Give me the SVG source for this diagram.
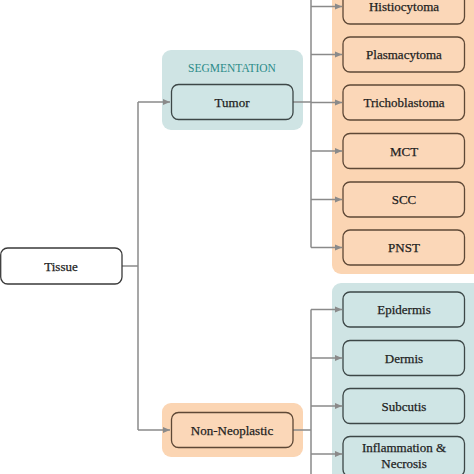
<svg xmlns="http://www.w3.org/2000/svg" width="474" height="474" viewBox="0 0 474 474">
<defs>
<style>
.bgT{fill:#cfe4e4}
.bgO{fill:#fbd5b3}
.bT{fill:#cfe5e5;stroke:#3d4747;stroke-width:1.3}
.bO{fill:#fbd7b8;stroke:#5e4836;stroke-width:1.3}
.bW{fill:#ffffff;stroke:#3a3a3a;stroke-width:1.3}
.t{font-family:"Liberation Serif","Times New Roman",serif;font-size:13px;fill:#1e1e1e;stroke:#1e1e1e;stroke-width:0.25;text-anchor:middle;dominant-baseline:central}
.seg{font-family:"Liberation Serif","Times New Roman",serif;font-size:11.5px;fill:#2b8b89;text-anchor:middle;dominant-baseline:central}
.c{fill:none;stroke:#8a8a8a;stroke-width:1.5}
</style>
<marker id="ah" markerWidth="8" markerHeight="8" refX="7" refY="4" orient="auto" markerUnits="userSpaceOnUse">
<path d="M0,1 L7,4 L0,7 Z" fill="#8a8a8a"/>
</marker>
</defs>
<rect class="bgT" x="162" y="50" width="141" height="80" rx="9"/>
<rect class="bgO" x="162" y="403" width="141" height="54" rx="9"/>
<rect class="bgO" x="332" y="-20" width="150" height="294" rx="9"/>
<rect class="bgT" x="332" y="283" width="150" height="210" rx="9"/>
<g id="connectors">
<path class="c" d="M122,266 H138"/>
<path class="c" d="M138,102 V430"/>
<path class="c" d="M138,102 H170" marker-end="url(#ah)"/>
<path class="c" d="M138,430 H170" marker-end="url(#ah)"/>
<path class="c" d="M293,102 H311"/>
<path class="c" d="M311,-5 V247.5"/>
<path class="c" d="M311,6.5 H342" marker-end="url(#ah)"/>
<path class="c" d="M311,54.5 H342" marker-end="url(#ah)"/>
<path class="c" d="M311,102.5 H342" marker-end="url(#ah)"/>
<path class="c" d="M311,151 H342" marker-end="url(#ah)"/>
<path class="c" d="M311,199.5 H342" marker-end="url(#ah)"/>
<path class="c" d="M311,247.5 H342" marker-end="url(#ah)"/>
<path class="c" d="M293,430 H311"/>
<path class="c" d="M311,309.5 V480"/>
<path class="c" d="M311,309.5 H342" marker-end="url(#ah)"/>
<path class="c" d="M311,358 H342" marker-end="url(#ah)"/>
<path class="c" d="M311,406 H342" marker-end="url(#ah)"/>
<path class="c" d="M311,454 H342" marker-end="url(#ah)"/>
</g>
<g id="tissue"><rect class="bW" x="0.7" y="248" width="121.3" height="36" rx="7"/><text class="t" x="61" y="266">Tissue</text></g>
<g id="segmentation"><text class="seg" x="232" y="68">SEGMENTATION</text></g>
<g id="tumor"><rect class="bT" x="171.5" y="84.5" width="121.5" height="35" rx="7"/><text class="t" x="232" y="102">Tumor</text></g>
<g id="nonneoplastic"><rect class="bO" x="171.5" y="412.5" width="121.5" height="35" rx="7"/><text class="t" x="232" y="430">Non-Neoplastic</text></g>
<g id="histiocytoma"><rect class="bO" x="343" y="-11" width="121.5" height="35" rx="7"/><text class="t" x="404" y="6.5">Histiocytoma</text></g>
<g id="plasmacytoma"><rect class="bO" x="343" y="37" width="121.5" height="35" rx="7"/><text class="t" x="404" y="54.5">Plasmacytoma</text></g>
<g id="trichoblastoma"><rect class="bO" x="343" y="85" width="121.5" height="35" rx="7"/><text class="t" x="404" y="102.5">Trichoblastoma</text></g>
<g id="mct"><rect class="bO" x="343" y="133.5" width="121.5" height="35" rx="7"/><text class="t" x="404" y="151">MCT</text></g>
<g id="scc"><rect class="bO" x="343" y="182" width="121.5" height="35" rx="7"/><text class="t" x="404" y="199.5">SCC</text></g>
<g id="pnst"><rect class="bO" x="343" y="230" width="121.5" height="35" rx="7"/><text class="t" x="404" y="247.5">PNST</text></g>
<g id="epidermis"><rect class="bT" x="343" y="292" width="121.5" height="35" rx="7"/><text class="t" x="404" y="309.5">Epidermis</text></g>
<g id="dermis"><rect class="bT" x="343" y="340.5" width="121.5" height="35" rx="7"/><text class="t" x="404" y="358">Dermis</text></g>
<g id="subcutis"><rect class="bT" x="343" y="388.5" width="121.5" height="35" rx="7"/><text class="t" x="404" y="406">Subcutis</text></g>
<g id="inflammation"><rect class="bT" x="343" y="436.5" width="121.5" height="40" rx="7"/><text class="t" x="404" y="447">Inflammation &amp;</text><text class="t" x="404" y="463">Necrosis</text></g>
</svg>
